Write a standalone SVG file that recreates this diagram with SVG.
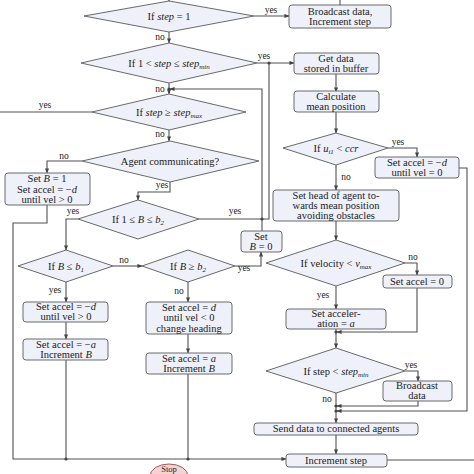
<svg xmlns="http://www.w3.org/2000/svg" width="474" height="474" viewBox="0 0 474 474">
<defs>
<marker id="ah" viewBox="0 0 6 6" refX="5.5" refY="3" markerWidth="5" markerHeight="5" orient="auto" markerUnits="userSpaceOnUse">
<path d="M0,0.5 L6,3 L0,5.5 Z" fill="#444"/>
</marker>
<style>
.box{fill:#eef0fa;stroke:#6a6a6a;stroke-width:1}
.dia{fill:#eef0fa;stroke:#6a6a6a;stroke-width:1}
.ln{fill:none;stroke:#505050;stroke-width:1.1}
.ar{marker-end:url(#ah)}
.dot{fill:#444}
text{font-family:"Liberation Serif","DejaVu Serif",serif;font-size:10.5px;fill:#222;text-anchor:middle}
.lbl{font-size:9.5px}
.i{font-style:italic}
.s{font-size:7px;font-style:italic}
</style>
</defs>
<rect width="474" height="474" fill="#ffffff"/>

<g id="connectors">
<path class="ln ar" d="M169,-2 V1"/>
<path class="ln" d="M340,6 V0"/>
<path class="ln ar" d="M254,16 H289"/>
<path class="ln ar" d="M169,32 V43"/>
<path class="ln ar" d="M257,63 H294"/>
<path class="ln ar" d="M169,83 V94"/>
<path class="ln" d="M269,63 V219 H262"/>
<path class="ln ar" d="M262,231 V89 H170"/>
<path class="ln" d="M92,112 H0"/>
<path class="ln ar" d="M169,130 V141"/>
<path class="ln ar" d="M82,161 H47 V173"/>
<path class="ln ar" d="M47,205 V223 H13 V459 H286"/>
<path class="ln ar" d="M170,182 V192 H138 V200"/>
<path class="ln ar" d="M78,219 H66 V250"/>
<path class="ln" d="M199,219 H262"/>
<path class="ln ar" d="M113,266 H142"/>
<path class="ln ar" d="M235,266 H261 V252"/>
<path class="ln ar" d="M66,282 V302"/>
<path class="ln ar" d="M188,282 V302"/>
<path class="ln ar" d="M66,322 V339"/>
<path class="ln ar" d="M188,334 V353"/>
<path class="ln" d="M66,360 V459"/>
<path class="ln" d="M188,374 V459"/>
<path class="ln ar" d="M336,74 V92"/>
<path class="ln ar" d="M336,112 V133"/>
<path class="ln ar" d="M388,148 H417 V157"/>
<path class="ln ar" d="M459,168 H467 V411 H337"/>
<path class="ln ar" d="M336,165 V190"/>
<path class="ln ar" d="M336,221 V240"/>
<path class="ln ar" d="M405,263 H417 V275"/>
<path class="ln ar" d="M417,288 V332 H337"/>
<path class="ln ar" d="M336,286 V309"/>
<path class="ln ar" d="M336,329 V348"/>
<path class="ln ar" d="M405,371 H418 V381"/>
<path class="ln ar" d="M418,401 V406 H337"/>
<path class="ln ar" d="M336,393 V423"/>
<path class="ln ar" d="M336,435 V454"/>
<path class="ln" d="M387,460 H474"/>
<circle class="dot" cx="169" cy="89" r="1.6"/>
<circle class="dot" cx="269" cy="63" r="1.6"/>
<circle class="dot" cx="262" cy="219" r="1.6"/>
<circle class="dot" cx="66" cy="459" r="1.6"/>
<circle class="dot" cx="188" cy="459" r="1.6"/>
<circle class="dot" cx="336" cy="332" r="1.6"/>
<circle class="dot" cx="336" cy="406" r="1.6"/>
<circle class="dot" cx="336" cy="411" r="1.6"/>
<text class="lbl" x="271" y="13">yes</text>
<text class="lbl" x="160" y="40">no</text>
<text class="lbl" x="264" y="59">yes</text>
<text class="lbl" x="160" y="92">no</text>
<text class="lbl" x="45" y="108">yes</text>
<text class="lbl" x="160" y="137">no</text>
<text class="lbl" x="64" y="159">no</text>
<text class="lbl" x="162" y="188">yes</text>
<text class="lbl" x="73" y="214">yes</text>
<text class="lbl" x="235" y="214">yes</text>
<text class="lbl" x="124" y="263">no</text>
<text class="lbl" x="244" y="271">yes</text>
<text class="lbl" x="55" y="293">yes</text>
<text class="lbl" x="179" y="294">no</text>
<text class="lbl" x="398" y="145">yes</text>
<text class="lbl" x="346" y="180">no</text>
<text class="lbl" x="413" y="260">no</text>
<text class="lbl" x="323" y="298">yes</text>
<text class="lbl" x="411" y="368">yes</text>
<text class="lbl" x="327" y="402">no</text>
</g>

<g id="d1"><path class="dia" d="M169,1 L254,16 L169,32 L84,16 Z"/><text x="169" y="20">If <tspan class="i">step</tspan> = 1</text></g>
<g id="bcast1"><rect class="box" x="289" y="5" width="102" height="23" rx="3"/><text x="340" y="14.5">Broadcast data,</text><text x="340" y="25">Increment step</text></g>
<g id="d2"><path class="dia" d="M169,43 L257,63 L169,83 L81,63 Z"/><text x="169" y="67">If 1 &lt; <tspan class="i">step</tspan> ≤ <tspan class="i">step</tspan><tspan class="s" dy="2">min</tspan></text></g>
<g id="getdata"><rect class="box" x="294" y="53" width="85" height="21" rx="3"/><text x="336" y="61.5">Get data</text><text x="336" y="71.5">stored in buffer</text></g>
<g id="calc"><rect class="box" x="294" y="91" width="85" height="21" rx="3"/><text x="336" y="99.5">Calculate</text><text x="336" y="109.5">mean position</text></g>
<g id="d3"><path class="dia" d="M169,94 L246,112 L169,130 L92,112 Z"/><text x="169" y="116">If <tspan class="i">step</tspan> ≥ <tspan class="i">step</tspan><tspan class="s" dy="2">max</tspan></text></g>
<g id="du"><path class="dia" d="M336,133 L388,148 L336,165 L283,148 Z"/><text x="336" y="152">If <tspan class="i">u</tspan><tspan class="s" dy="2">i1</tspan><tspan dy="-2"> &lt; </tspan><tspan class="i">ccr</tspan></text></g>
<g id="d4"><path class="dia" d="M170,141 L259,161 L170,182 L82,161 Z"/><text x="170" y="165">Agent communicating?</text></g>
<g id="setb1"><rect class="box" x="5" y="173" width="85" height="32" rx="3"/><text x="47" y="182">Set <tspan class="i">B</tspan> = 1</text><text x="47" y="192.5">Set accel = −<tspan class="i">d</tspan></text><text x="47" y="202.5">until vel &gt; 0</text></g>
<g id="setdm"><rect class="box" x="375" y="157" width="84" height="21" rx="3"/><text x="417" y="165.5">Set accel = −<tspan class="i">d</tspan></text><text x="417" y="175.5">until vel = 0</text></g>
<g id="head"><rect class="box" x="273" y="190" width="126" height="31" rx="3"/><text x="336" y="199">Set head of agent to-</text><text x="336" y="209">wards mean position</text><text x="336" y="219">avoiding obstacles</text></g>
<g id="d5"><path class="dia" d="M138,200 L199,219 L138,239 L78,219 Z"/><text x="138" y="223">If 1 ≤ <tspan class="i">B</tspan> ≤ <tspan class="i">b</tspan><tspan class="s" dy="2">2</tspan></text></g>
<g id="setb0"><rect class="box" x="241" y="231" width="41" height="21" rx="3"/><text x="261" y="239.5">Set</text><text x="261" y="249.5"><tspan class="i">B</tspan> = 0</text></g>
<g id="dvel"><path class="dia" d="M336,240 L405,263 L336,286 L266,263 Z"/><text x="336" y="267">If velocity &lt; <tspan class="i">v</tspan><tspan class="s" dy="2">max</tspan></text></g>
<g id="d6"><path class="dia" d="M66,250 L113,266 L66,282 L18,266 Z"/><text x="66" y="270">If <tspan class="i">B</tspan> ≤ <tspan class="i">b</tspan><tspan class="s" dy="2">1</tspan></text></g>
<g id="d7"><path class="dia" d="M188,250 L235,266 L188,282 L142,266 Z"/><text x="188" y="270">If <tspan class="i">B</tspan> ≥ <tspan class="i">b</tspan><tspan class="s" dy="2">2</tspan></text></g>
<g id="setacc0"><rect class="box" x="383" y="275" width="69" height="13" rx="3"/><text x="417" y="285">Set accel = 0</text></g>
<g id="setdm2"><rect class="box" x="23" y="302" width="85" height="20" rx="3"/><text x="66" y="310">Set accel = −<tspan class="i">d</tspan></text><text x="66" y="320">until vel &gt; 0</text></g>
<g id="setd"><rect class="box" x="146" y="302" width="86" height="32" rx="3"/><text x="189" y="310.5">Set accel = <tspan class="i">d</tspan></text><text x="189" y="321">until vel &lt; 0</text><text x="189" y="331.5">change heading</text></g>
<g id="setacca"><rect class="box" x="286" y="309" width="100" height="20" rx="3"/><text x="336" y="317">Set acceler-</text><text x="336" y="327">ation = <tspan class="i">a</tspan></text></g>
<g id="setma"><rect class="box" x="23" y="339" width="85" height="21" rx="3"/><text x="66" y="347.5">Set accel = −<tspan class="i">a</tspan></text><text x="66" y="357.5">Increment <tspan class="i">B</tspan></text></g>
<g id="setpa"><rect class="box" x="146" y="353" width="86" height="21" rx="3"/><text x="189" y="361.5">Set accel = <tspan class="i">a</tspan></text><text x="189" y="371.5">Increment <tspan class="i">B</tspan></text></g>
<g id="dstep"><path class="dia" d="M336,348 L405,371 L336,393 L266,371 Z"/><text x="336" y="375">If step &lt; <tspan class="i">step</tspan><tspan class="s" dy="2">min</tspan></text></g>
<g id="bcast2"><rect class="box" x="383" y="381" width="69" height="20" rx="3"/><text x="417" y="389">Broadcast</text><text x="417" y="399">data</text></g>
<g id="send"><rect class="box" x="254" y="423" width="164" height="12" rx="3"/><text x="336" y="432">Send data to connected agents</text></g>
<g id="incr"><rect class="box" x="286" y="454" width="101" height="13" rx="3"/><text x="336" y="464">Increment step</text></g>
<g id="stop"><ellipse cx="169" cy="476" rx="19" ry="12" fill="#f6d3d3" stroke="#a05a5a" stroke-width="1"/><text x="169" y="471.5" style="font-size:8.5px" fill="#a05a5a">Stop</text></g>
</svg>
